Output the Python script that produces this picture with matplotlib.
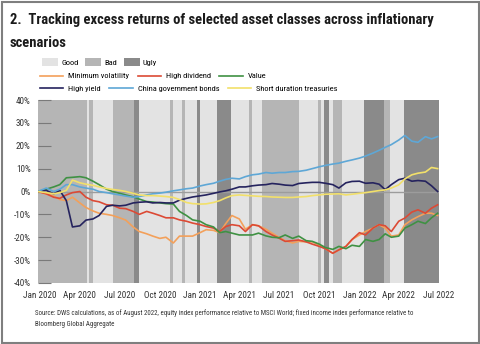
import matplotlib
matplotlib.use('Agg')
import matplotlib.pyplot as plt
import matplotlib.dates as mdates
from matplotlib.patches import Patch, Rectangle
from matplotlib.lines import Line2D
from matplotlib import font_manager as fm
import pandas as pd

# ---------------- data ----------------
dates = pd.to_datetime([
    '2019-12-27', '2020-01-15', '2020-02-01', '2020-02-15', '2020-03-01', '2020-03-15',
    '2020-04-01', '2020-04-15', '2020-05-01', '2020-05-15', '2020-06-01', '2020-06-15',
    '2020-07-01', '2020-07-15', '2020-08-01', '2020-08-15', '2020-09-01', '2020-09-15',
    '2020-10-01', '2020-10-15', '2020-11-01', '2020-11-15', '2020-12-01', '2020-12-15',
    '2021-01-01', '2021-01-15', '2021-02-01', '2021-02-15', '2021-03-01', '2021-03-15',
    '2021-04-01', '2021-04-15', '2021-05-01', '2021-05-15', '2021-06-01', '2021-06-15',
    '2021-07-01', '2021-07-15', '2021-08-01', '2021-08-15', '2021-09-01', '2021-09-15',
    '2021-10-01', '2021-10-15', '2021-11-01', '2021-11-15', '2021-12-01', '2021-12-15',
    '2022-01-01', '2022-01-15', '2022-02-01', '2022-02-15', '2022-03-01', '2022-03-15',
    '2022-04-01', '2022-04-15', '2022-05-01', '2022-05-15', '2022-06-01', '2022-06-15',
    '2022-06-29'])

min_vol = [0, -1, -2, -3.5, -4, -2.5, -5, -7, -8.5, -9.5, -10, -10.5, -11.5, -12.5, -15.5, -17.5,
           -18.5, -19.5, -20.5, -20, -22.5, -19.5, -19.5, -19.5, -18, -16.7, -17, -18, -14, -10.5, -12,
           -16.5, -14.5, -15, -16.5, -18.2, -20, -21.5, -22.5, -21.8, -22, -22, -23.5, -25, -27, -25.5,
           -24, -21, -19, -17.5, -16, -14.5, -16, -19.5, -19, -14.5, -12.4, -11, -9.5, -9.5, -10.5]
high_div = [0, -1, -2.5, -3, -1.5, -0.5, 0, -2.5, -4, -4.5, -5.8, -6, -7.3, -7.5, -8.7, -10,
            -8.7, -9.5, -10.5, -11.5, -11.5, -12.4, -13, -13.8, -14.5, -15.3, -16, -17.5, -15.3, -14.5, -15,
            -17.5, -14.5, -15, -17.5, -19, -20.4, -21.8, -21.5, -21.2, -22, -23, -24, -25, -27, -25.5,
            -24, -21, -18, -19, -16, -14.5, -15, -17.5, -13, -11.6, -9, -8, -9.5, -7.3, -5.8]
value = [0, 1, 2, 3, 6, 6.2, 6.5, 6, 4.5, 3, 1, 0, -0.8, -1.5, -2.3, -3.3,
         -4.4, -4.6, -5, -5.3, -5.5, -8.7, -10.5, -12.4, -13, -14.5, -15.5, -18, -17.5, -18.2, -19,
         -19, -19, -18.2, -19.4, -20, -20.2, -19, -20.5, -19.5, -21.5, -21.8, -23, -24.5, -25.3, -24,
         -25, -23.5, -24, -21, -21.8, -21, -18.5, -20, -19.5, -16, -14.5, -13, -14, -11.5, -9.5]
high_yield = [0, 0.5, -1, 0.5, -4, -15.5, -15, -12.5, -12, -10.5, -6.5, -6, -6.3, -6, -5, -4.7,
              -4.5, -5, -4.8, -5, -5, -3.8, -3, -2.4, -1.9, -1.5, -0.8, -0.2, 0.3, 1, 2,
              2, 2.5, 2.8, 3, 3.5, 3.2, 2.8, 2.6, 3.5, 3.8, 4, 4, 3.6, 3, 1.5,
              3.8, 4.4, 4.5, 3.6, 3.8, 3.2, 0.8, 3, 5.2, 5.8, 4.5, 4.8, 4.5, 2.5, 0]
china_bonds = [0, 1.5, 0, 1, 3, 3, 2, 1.5, 1, 0, -0.5, -1, -1.5, -2, -2.5, -2.2,
               -1.5, -1, -0.7, -0.3, 0.3, 0.7, 1.2, 1.5, 2.4, 3, 3.6, 4.5, 5.3, 5.8, 5.5,
               6.5, 7.3, 7.6, 8.3, 8, 8.3, 8.3, 8.7, 8.8, 9.3, 10, 10.8, 11.4, 12, 12.4,
               13.2, 13.8, 14.6, 15.5, 16.8, 18, 19.3, 20.5, 22.5, 24.5, 22, 21.5, 24, 23, 24]
short_dur = [0, -0.5, -1, -0.5, 0.5, 5, 3.8, 3.2, 2.7, 2, 1.3, 0.9, 0.5, 0, -0.8, -1.5,
             -1.8, -1.8, -2, -2.2, -2.6, -3.5, -4.8, -5.3, -5.5, -5.4, -4.8, -4, -2.8, -1.8, -1.5,
             -1.7, -1.9, -2.1, -2.2, -2.4, -2.5, -2.6, -2.6, -2.4, -2.2, -1.8, -1.5, -1.2, -1.1, -1.0,
             -1.5, -1.2, -0.8, -0.5, 0, 0.4, 0.7, 1.5, 2.9, 5.5, 7.3, 8, 8.5, 10.5, 10]

series_names = ['Minimum volatility', 'High dividend', 'Value',
                'High yield', 'China government bonds', 'Short duration treasuries']
series_values = [min_vol, high_div, value, high_yield, china_bonds, short_dur]

band_starts = ['2019-12-20', '2020-04-18', '2020-04-23', '2020-05-02', '2020-06-15', '2020-08-02',
               '2020-08-15', '2020-10-25', '2020-11-01', '2020-11-20', '2020-11-28', '2020-12-24',
               '2021-01-01', '2021-02-09', '2021-03-14', '2021-04-23', '2021-05-01', '2021-05-22',
               '2021-08-16', '2021-09-27', '2021-10-05', '2021-10-12', '2021-10-23', '2021-11-02',
               '2021-11-22', '2022-01-12', '2022-02-27', '2022-03-12', '2022-04-12']
band_ends = band_starts[1:] + ['2022-07-10']
band_types = ['Bad', 'Good', 'Bad', 'Good', 'Bad', 'Ugly',
              'Good', 'Bad', 'Good', 'Bad', 'Good', 'Ugly',
              'Good', 'Ugly', 'Good', 'Bad', 'Good', 'Bad',
              'Good', 'Bad', 'Good', 'Ugly', 'Good', 'Bad',
              'Good', 'Ugly', 'Bad', 'Good', 'Ugly']

y_ticks = [-40, -30, -20, -10, 0, 10, 20, 30, 40]
x_ticks = ['2020-01-01', '2020-04-01', '2020-07-01', '2020-10-01', '2021-01-01', '2021-04-01',
           '2021-07-01', '2021-10-01', '2022-01-01', '2022-04-01', '2022-07-01']

# ---------------- style ----------------
band_colors = {'Good': '#e3e3e3', 'Bad': '#b5b5b5', 'Ugly': '#8a8a8a'}
line_colors = ['#f3a05a', '#dc4a35', '#3f9143', '#25235e', '#5ea7d6', '#f2e06a']

names = {f.name for f in fm.fontManager.ttflist}
narrow = next((n for n in ['Liberation Sans Narrow', 'Roboto Condensed', 'DejaVu Sans']
               if n in names), 'DejaVu Sans')
plt.rcParams['font.family'] = [narrow, 'DejaVu Sans']
plt.rcParams['font.stretch'] = 'condensed'

fig = plt.figure(figsize=(4.8, 3.44), dpi=100)
ax = fig.add_axes([37.5 / 480, 1 - 283 / 344, (438.5 - 37.5) / 480, (283 - 100) / 344])

for s, e, t in zip(band_starts, band_ends, band_types):
    ax.axvspan(pd.Timestamp(s), pd.Timestamp(e), color=band_colors[t], lw=0, zorder=0)

ax.axhline(0, color='#9c9c9c', lw=1.0, zorder=1)

for name, vals, c in zip(series_names, series_values, line_colors):
    ax.plot(dates, vals, color=c, lw=1.2, zorder=3)

ax.set_xlim(pd.Timestamp('2019-12-26'), pd.Timestamp('2022-06-29'))
ax.set_ylim(-40, 40)
ax.set_yticks(y_ticks)
ax.set_yticklabels([f'{v}%' for v in y_ticks])
ax.set_xticks(pd.to_datetime(x_ticks))
ax.xaxis.set_major_formatter(mdates.DateFormatter('%b %Y'))
for sp in ax.spines.values():
    sp.set_visible(False)
ax.tick_params(axis='y', direction='in', length=9, width=0.8, color='#7a7a7a',
               labelsize=6.6, labelcolor='#333333', pad=5)
ax.tick_params(axis='x', length=0, labelsize=6.6, labelcolor='#333333', pad=6)

# title
fig.text(10 / 480, 1 - 24 / 344, '2.  Tracking excess returns of selected asset classes across inflationary',
         fontsize=10.5, fontweight='bold', color='#1a1a1a', va='baseline', ha='left')
fig.text(10 / 480, 1 - 47 / 344, 'scenarios',
         fontsize=10.5, fontweight='bold', color='#1a1a1a', va='baseline', ha='left')

# legends
patch_handles = [Patch(facecolor=band_colors[k], edgecolor='none') for k in ['Good', 'Bad', 'Ugly']]
fig.legend(patch_handles, ['Good', 'Bad', 'Ugly'], loc='center left',
           bbox_to_anchor=(42 / 480, 1 - 62 / 344), ncol=3, frameon=False,
           fontsize=6, handlelength=1.9, handleheight=1.2, handletextpad=0.4,
           columnspacing=0.8, borderpad=0, borderaxespad=0)
line_handles = [Line2D([], [], color=c, lw=1.2) for c in line_colors]
fig.legend(line_handles[:3], series_names[:3], loc='center left',
           bbox_to_anchor=(40 / 480, 1 - 76 / 344), ncol=3, frameon=False,
           fontsize=6, handlelength=2.8, handletextpad=0.6, columnspacing=1.0,
           borderpad=0, borderaxespad=0)
fig.legend(line_handles[3:], series_names[3:], loc='center left',
           bbox_to_anchor=(40 / 480, 1 - 89 / 344), ncol=3, frameon=False,
           fontsize=6, handlelength=2.8, handletextpad=0.6, columnspacing=1.0,
           borderpad=0, borderaxespad=0)

# source
fig.text(35 / 480, 1 - 315 / 344,
         'Source: DWS calculations, as of August 2022, equity index performance relative to MSCI World; '
         'fixed income index performance relative to',
         fontsize=4.95, color='#333333', va='baseline', ha='left')
fig.text(35 / 480, 1 - 326 / 344, 'Bloomberg Global Aggregate',
         fontsize=4.95, color='#333333', va='baseline', ha='left')

fig.add_artist(Rectangle((1.5 / 480, 1.5 / 344), 1 - 3 / 480, 1 - 3 / 344,
                         transform=fig.transFigure, fill=False, ec='#7f7f7f', lw=1.5))

fig.savefig('out.png', dpi=100, facecolor='white')
